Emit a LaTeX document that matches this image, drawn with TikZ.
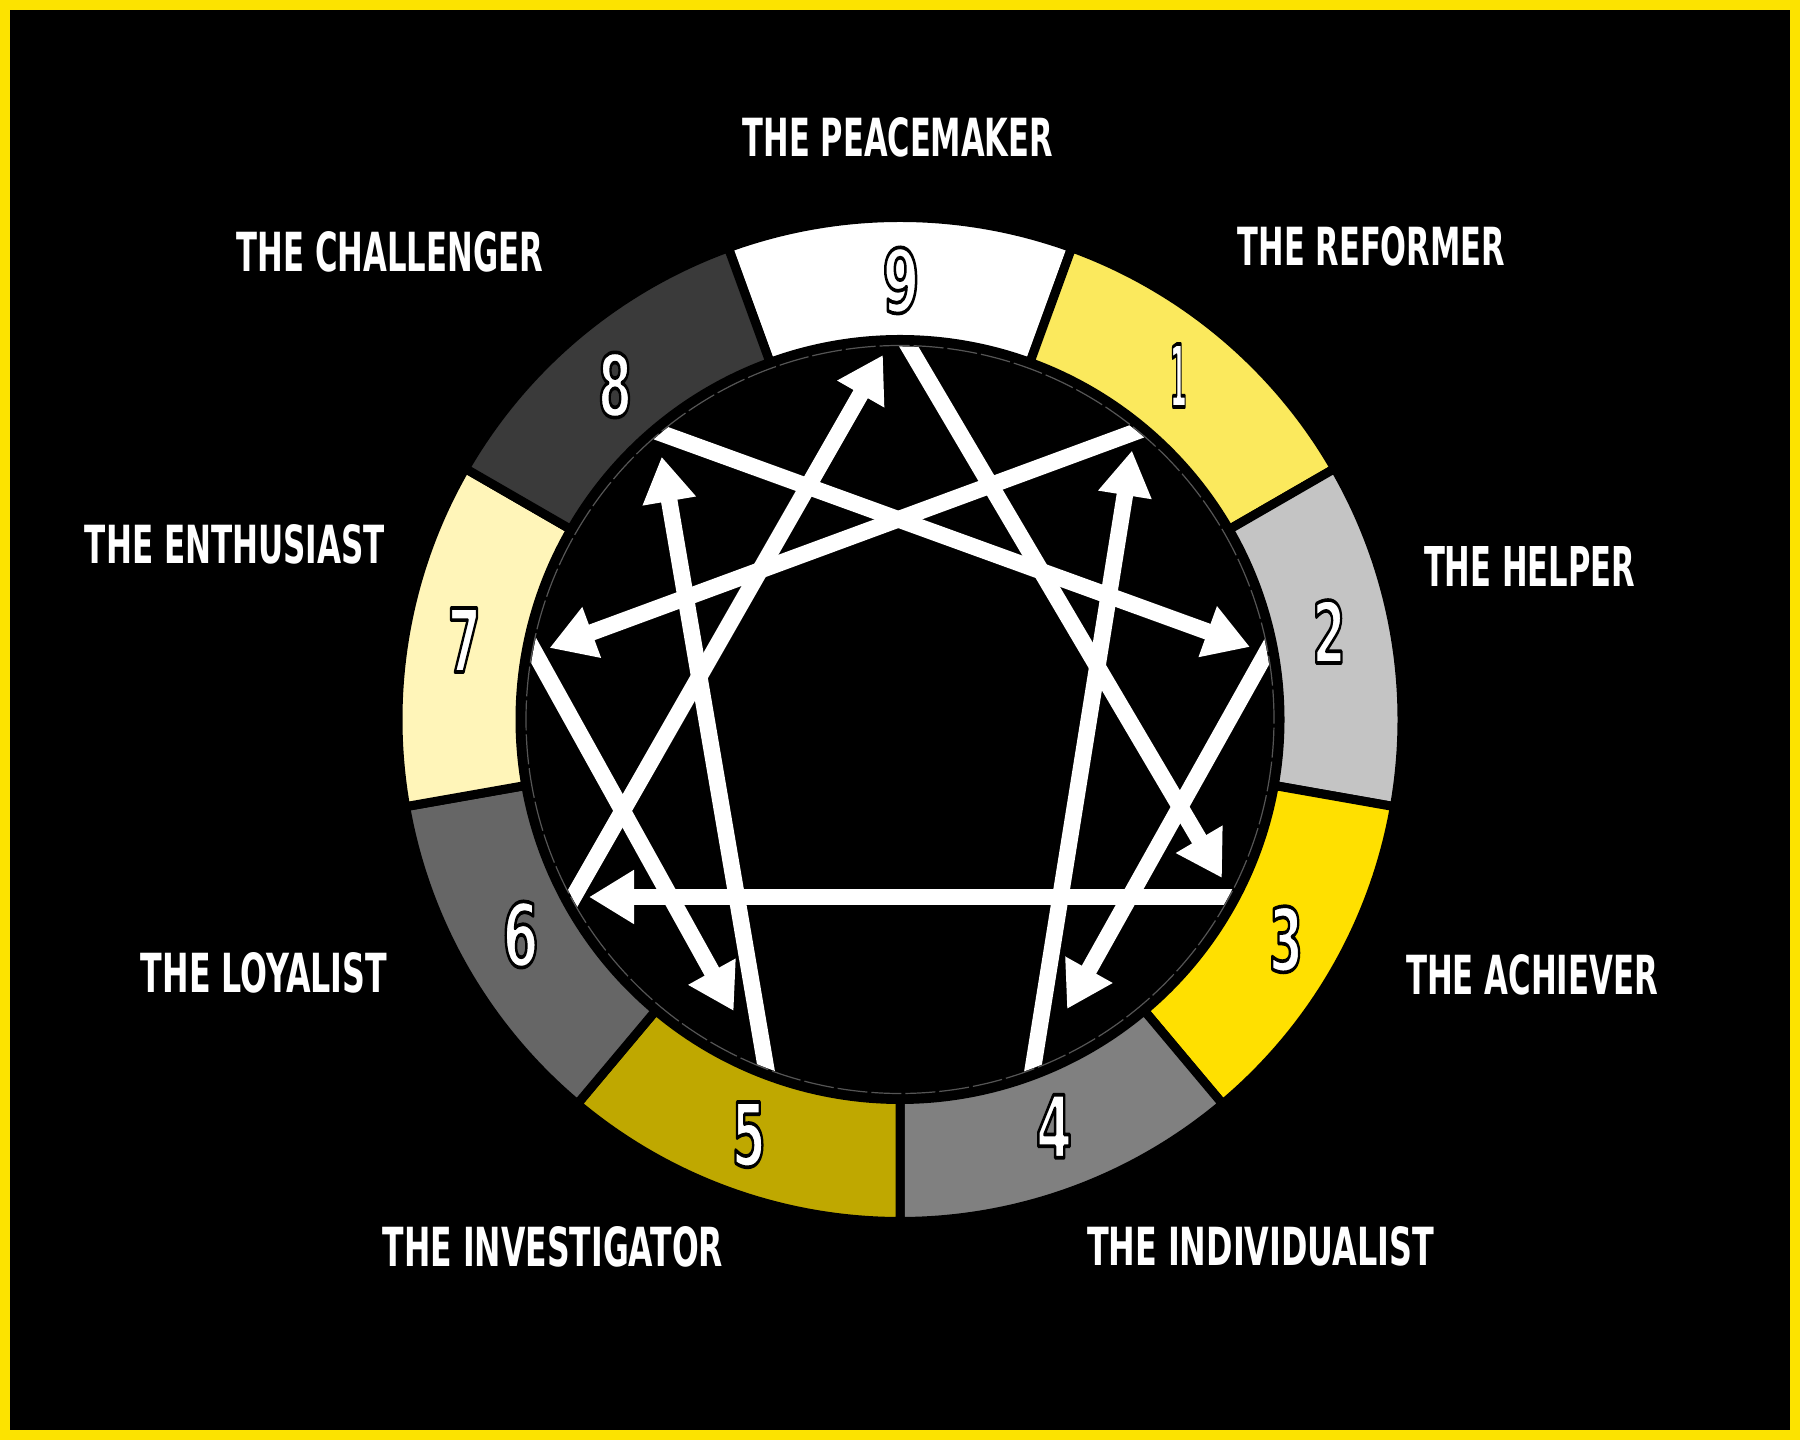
\documentclass[tikz,border=0pt]{standalone}
\usepackage{fontspec}
\usepackage{graphicx}
\usetikzlibrary{arrows.meta,calc}
\newfontfamily\lblfont{DejaVu Sans Condensed}
\definecolor{frameyellow}{RGB}{252,227,0}
\definecolor{segone}{RGB}{251,233,93}
\definecolor{segtwo}{RGB}{196,196,196}
\definecolor{segthree}{RGB}{255,224,0}
\definecolor{segfour}{RGB}{128,128,128}
\definecolor{segfive}{RGB}{191,168,0}
\definecolor{segsix}{RGB}{102,102,102}
\definecolor{segseven}{RGB}{255,245,185}
\definecolor{segeight}{RGB}{58,58,58}
\definecolor{segnine}{RGB}{255,255,255}
\definecolor{guide}{RGB}{85,85,85}
\tikzset{
  lbl/.style={inner sep=0pt, text=white, font=\lblfont\bfseries},
  numtxt/.style={inner sep=0pt, text=white, font=\lblfont\bfseries},
  arr/.style={draw=white, line width=16.5pt, -{Triangle[length=45pt,width=51pt]}, shorten <=-25pt},
  seg/.style={draw=black, line width=9pt, line join=miter},
}
\newcommand\ringseg[3]{%
  \filldraw[seg, fill=#1] ($(c)+(#2:502pt)$) arc[start angle=#2, end angle=#3, radius=502pt]
    -- ($(c)+(#3:380pt)$) arc[start angle=#3, end angle=#2, radius=380pt] -- cycle;}
\newcommand\outlined[1]{\special{pdf:literal direct 2 Tr 0.42 w 1 j 0 0 0 RG}#1\special{pdf:literal direct 0 Tr}}
\newcommand\digitnode[6]{%
  \node[numtxt] (#1) at (#2,#3) {\resizebox{#4pt}{#5pt}{\outlined{#6}}};}
\begin{document}
\begin{tikzpicture}[x=1pt,y=1pt]
\useasboundingbox (0,0) rectangle (1800,1440);
\fill[frameyellow] (0,0) rectangle (1800,1440);
\fill[black] (10,10) rectangle (1790,1430);
\coordinate (c) at (900,720.5);
% ring
\ringseg{segnine}{70}{110}
\ringseg{segone}{30}{70}
\ringseg{segtwo}{-10}{30}
\ringseg{segthree}{-50}{-10}
\ringseg{segfour}{-90}{-50}
\ringseg{segfive}{-130}{-90}
\ringseg{segsix}{-170}{-130}
\ringseg{segseven}{150}{190}
\ringseg{segeight}{110}{150}
\draw[guide, line width=1.2pt, dash pattern=on 30pt off 4pt] (c) circle[radius=374pt];
% connector end points
\coordinate (s1) at (1135.7,1008.2); \coordinate (t7) at (549.5,792);
\coordinate (s7) at (535,787);       \coordinate (t5) at (733.7,429);
\coordinate (s5) at (766,372);       \coordinate (t8) at (661.7,983.3);
\coordinate (s8) at (662,1006.4);    \coordinate (t2) at (1250,793);
\coordinate (s2) at (1265,785);      \coordinate (t4) at (1067,431);
\coordinate (s4) at (1033,372);      \coordinate (t1) at (1132,989.5);
\coordinate (s9) at (909,1093);      \coordinate (t3) at (1222,562);
\coordinate (s3) at (1230,543);      \coordinate (t6) at (589,543);
\coordinate (s6) at (574,544);       \coordinate (t9) at (883,1085);
\begin{scope}
\clip (c) circle[radius=373pt];
\draw[arr] (s1) -- (t7);
\draw[arr] (s7) -- (t5);
\draw[arr] (s5) -- (t8);
\draw[arr] (s8) -- (t2);
\draw[arr] (s2) -- (t4);
\draw[arr] (s4) -- (t1);
\draw[arr] (s9) -- (t3);
\draw[arr] (s3) -- (t6);
\draw[arr] (s6) -- (t9);
\end{scope}
% digits
\digitnode{n9}{901}{1159.5}{37}{65}{9}
\digitnode{n1}{1178.3}{1064.5}{17}{63}{1}
\digitnode{n2}{1329}{808.5}{33}{63}{2}
\digitnode{n3}{1286}{500.7}{34}{65}{3}
\digitnode{n4}{1054}{313.7}{36}{63}{4}
\digitnode{n5}{748.8}{305.3}{34}{64}{5}
\digitnode{n6}{520.5}{505.5}{36}{65}{6}
\digitnode{n7}{464.3}{800}{33}{64}{7}
\digitnode{n8}{615}{1055}{34}{64}{8}
% labels
\node[lbl] (lpeace) at (898,1302.5) {\resizebox{310pt}{39pt}{THE PEACEMAKER}};
\node[lbl] (lreform) at (1371.5,1193.7) {\resizebox{267pt}{39pt}{THE REFORMER}};
\node[lbl] (lhelp) at (1529.5,873.3) {\resizebox{211pt}{40pt}{THE HELPER}};
\node[lbl] (lachieve) at (1532,465) {\resizebox{252pt}{40pt}{THE ACHIEVER}};
\node[lbl] (lindiv) at (1260.5,193.5) {\resizebox{347pt}{39pt}{THE INDIVIDUALIST}};
\node[lbl] (linvest) at (553,193) {\resizebox{340pt}{40pt}{THE INVESTIGATOR}};
\node[lbl] (lloyal) at (264,467.5) {\resizebox{246pt}{40pt}{THE LOYALIST}};
\node[lbl] (lenth) at (235,895.5) {\resizebox{300pt}{39pt}{THE ENTHUSIAST}};
\node[lbl] (lchall) at (390,1188) {\resizebox{306pt}{40pt}{THE CHALLENGER}};
\end{tikzpicture}
\end{document}
